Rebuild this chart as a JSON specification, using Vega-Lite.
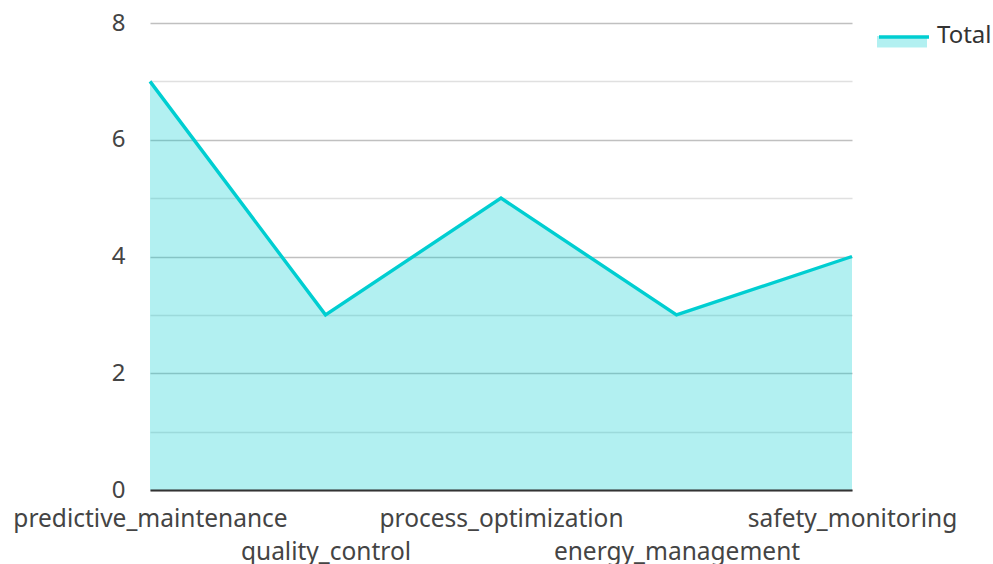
{
  "$schema": "https://vega.github.io/schema/vega-lite/v6.json",
  "width": 702,
  "height": 467,
  "autosize": {"type": "none"},
  "padding": {"left": 150, "top": 23, "right": 141, "bottom": 74},
  "config": {
    "font": "Noto Sans",
    "view": {"stroke": null},
    "axis": {"labelFont": "Noto Sans", "labelColor": "#444444", "labelFontSize": 24}
  },
  "data": {
    "values": [
      {"category": "predictive_maintenance", "value": 7, "series": "Total"},
      {"category": "quality_control", "value": 3, "series": "Total"},
      {"category": "process_optimization", "value": 5, "series": "Total"},
      {"category": "energy_management", "value": 3, "series": "Total"},
      {"category": "safety_monitoring", "value": 4, "series": "Total"}
    ]
  },
  "encoding": {
    "x": {
      "field": "category",
      "type": "nominal",
      "sort": null,
      "scale": {"type": "point", "padding": 0},
      "axis": {
        "title": null,
        "labelAngle": 0,
        "labelOverlap": false,
        "labelFlush": false,
        "labelBound": false,
        "labelLimit": 0,
        "labelFontSize": 24.5,
        "ticks": false,
        "grid": false,
        "domainColor": "#333333",
        "domainWidth": 2,
        "labelPadding": 17.5,
        "labelLineHeight": 32.5,
        "labelBaseline": "top",
        "labelExpr": "indexof(['quality_control','energy_management'], datum.value) >= 0 ? ['', datum.label] : datum.label",
        "zindex": 1
      }
    },
    "y": {
      "field": "value",
      "type": "quantitative",
      "scale": {"domain": [0, 8], "nice": false},
      "axis": {
        "title": null,
        "values": [0, 1, 2, 3, 4, 5, 6, 7, 8],
        "labelExpr": "datum.value % 2 === 0 ? datum.label : ''",
        "domain": false,
        "ticks": false,
        "labelPadding": 25,
        "gridColor": {"condition": {"test": "datum.value % 2 === 0", "value": "#c0c0c0"}, "value": "#e0e0e0"},
        "gridWidth": 1.3,
        "zindex": 0
      }
    }
  },
  "layer": [
    {
      "mark": {"type": "area", "fillOpacity": 0.3},
      "encoding": {
        "fill": {
          "field": "series",
          "type": "nominal",
          "scale": {"range": ["#00CED1"]},
          "legend": {
            "title": null,
            "orient": "none",
            "legendX": 727,
            "legendY": -12,
            "padding": 0,
            "symbolType": "M-1,0 L1,0 L1,0.46 L-1,0.46 Z",
            "symbolSize": 2500,
            "symbolOpacity": 0.3,
            "symbolStrokeWidth": 0,
            "labelFontSize": 24,
            "labelColor": "#333333",
            "labelFont": "Noto Sans",
            "labelOffset": 10
          }
        }
      }
    },
    {
      "mark": {"type": "line", "strokeWidth": 3.4, "color": "#00CED1"},
      "encoding": {
        "stroke": {
          "field": "series",
          "type": "nominal",
          "scale": {"range": ["#00CED1"]},
          "legend": {
            "title": null,
            "orient": "none",
            "legendX": 727,
            "legendY": -12,
            "padding": 0,
            "symbolType": "M-1,-0.04 L1,-0.04",
            "symbolSize": 2500,
            "symbolStrokeWidth": 3.4,
            "labelFontSize": 24,
            "labelOpacity": 0,
            "labelFont": "Noto Sans",
            "labelOffset": 10
          }
        }
      }
    }
  ]
}
